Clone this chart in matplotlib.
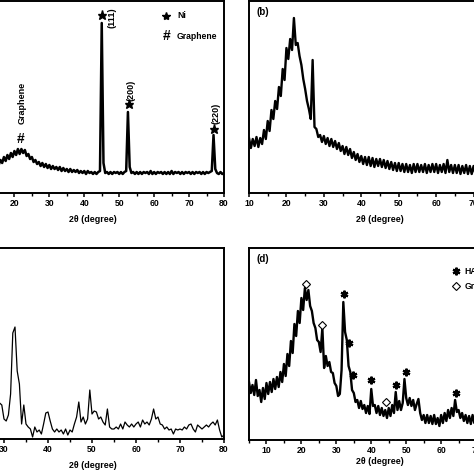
import numpy as np
import matplotlib.pyplot as plt
from matplotlib.ticker import MultipleLocator

plt.rcParams['font.family'] = ['Liberation Sans', 'DejaVu Sans']
plt.rcParams['font.weight'] = 'bold'

# ---- data (intensity in arbitrary units) ----
# (a) Ni / graphene, 2theta 5..80 step 0.5
theta_a = np.arange(5, 80.01, 0.5)
int_a = [27, 30, 26, 29, 27, 30, 26, 28, 30, 26,
         29, 27, 30, 26, 29, 27, 31, 27, 30, 28,
         32, 28, 33, 30, 36, 32, 38, 34, 40, 36,
         42, 38, 44, 39, 44, 40, 43, 37, 39, 34,
         36, 31, 33, 29, 31, 27, 30, 26, 29, 25,
         28, 24, 27, 24, 26, 23, 26, 22, 25, 22,
         24, 21, 24, 21, 23, 21, 23, 20, 22, 20,
         22, 19, 22, 20, 21, 19, 21, 19, 21, 22,
         170, 30, 20, 21, 19, 21, 19, 21, 20, 21,
         19, 21, 19, 21, 22, 81, 26, 20, 21, 19,
         21, 19, 21, 19, 21, 20, 21, 19, 22, 19,
         21, 19, 21, 20, 21, 19, 21, 19, 21, 19,
         22, 19, 21, 20, 21, 19, 21, 19, 21, 20,
         21, 19, 21, 19, 21, 20, 21, 19, 21, 19,
         21, 20, 21, 22, 58, 24, 20, 19, 21, 19,
         20]

# (b) 2theta 10..80 step 0.5
theta_b = np.arange(10, 80.01, 0.5)
int_b = [55, 45, 54, 47, 56, 46, 55, 49, 63, 54,
         72, 62, 83, 74, 92, 84, 106, 97, 124, 113,
         145, 134, 154, 143, 175, 148, 150, 137, 128, 114,
         104, 92, 84, 74, 133, 66, 64, 56, 58, 51,
         57, 49, 55, 47, 54, 46, 52, 44, 50, 42,
         47, 39, 46, 38, 44, 35, 41, 33, 39, 31,
         37, 29, 36, 28, 36, 27, 35, 26, 34, 27,
         34, 26, 33, 25, 32, 24, 31, 23, 30, 22,
         30, 22, 29, 21, 29, 21, 28, 20, 29, 21,
         29, 21, 28, 21, 29, 20, 28, 21, 29, 21,
         29, 20, 28, 21, 29, 20, 33, 21, 28, 20,
         28, 20, 28, 19, 27, 20, 28, 19, 27, 19,
         27, 19, 27, 19, 27, 19, 26, 19, 27, 18,
         26, 19, 26, 18, 26, 19, 26, 18, 26, 18,
         22]

# (c) 2theta 20..80 step 0.5
theta_c = np.arange(20, 80.01, 0.5)
int_c = [20, 15, 22, 17, 24, 19, 27, 22, 25, 20,
         23, 18, 21, 16, 22, 18, 24, 30, 36, 34,
         20, 18, 24, 45, 106, 112, 68, 55, 15, 34,
         15, 12, 10, 2, 12, 7, 9, 5, 15, 26,
         27, 18, 10, 7, 10, 7, 9, 5, 10, 4,
         9, 7, 15, 22, 37, 17, 22, 15, 20, 49,
         25, 28, 27, 20, 22, 17, 14, 30, 12, 10,
         10, 12, 10, 15, 10, 17, 14, 12, 15, 12,
         15, 17, 12, 19, 15, 17, 14, 20, 30, 20,
         22, 15, 14, 10, 12, 9, 10, 5, 10, 9,
         10, 9, 12, 10, 14, 15, 10, 7, 14, 12,
         10, 12, 14, 12, 15, 17, 14, 19, 9, 2,
         4]

# (d) 2theta 5..80 step 0.5
theta_d = np.arange(5, 80.01, 0.5)
int_d = [58, 47, 55, 45, 60, 44, 50, 38, 52, 41,
         57, 46, 58, 48, 61, 51, 63, 53, 68, 58,
         76, 64, 86, 74, 99, 87, 116, 104, 129, 117,
         142, 130, 152, 140, 150, 134, 129, 117, 112, 100,
         98, 88, 112, 72, 84, 74, 78, 68, 67, 57,
         54, 44, 46, 70, 138, 108, 100, 74, 68, 50,
         47, 38, 40, 32, 39, 31, 35, 27, 34, 26,
         51, 34, 35, 27, 34, 25, 32, 24, 30, 22,
         32, 24, 35, 27, 48, 30, 39, 30, 37, 61,
         42, 35, 42, 34, 40, 30, 36, 41, 27, 20,
         25, 17, 25, 17, 24, 16, 25, 16, 22, 14,
         25, 17, 27, 19, 30, 22, 32, 24, 40, 28,
         30, 22, 27, 19, 25, 17, 24, 16, 25, 17,
         25, 17, 24, 16, 25, 17, 24, 16, 25, 17,
         24, 16, 25, 17, 24, 16, 25, 17, 24, 16,
         21]

# phase markers in (d)
ha_theta = [32.3, 33.7, 34.9, 40.0, 47.1, 50.0, 64.3]
ha_int = [146, 97, 65, 60, 55, 68, 47]
gr_theta = [21.4, 26.0, 44.3]
gr_int = [156, 115, 38]

# ---- figure ----
W = H = 474
fig = plt.figure(figsize=(4.74, 4.74), dpi=100)


def panel(left, top, right, bottom, xlim, ymax):
    ax = fig.add_axes([left / W, 1 - bottom / H, (right - left) / W, (bottom - top) / H])
    ax.set_xlim(*xlim)
    ax.set_ylim(0, ymax)
    ax.set_yticks([])
    ax.xaxis.set_major_locator(MultipleLocator(10))
    ax.xaxis.set_minor_locator(MultipleLocator(5))
    ax.tick_params(axis='x', which='major', direction='out', length=3.2, width=1.1,
                   labelsize=6.2, pad=1.2)
    ax.tick_params(axis='x', which='minor', direction='out', length=2.2, width=1.0)
    for s in ax.spines.values():
        s.set_linewidth(1.4)
    return ax


def xlab(x, y):
    fig.text(x / W, 1 - y / H, '2\u03b8 (degree)', ha='center', va='center',
             fontsize=6.4, fontweight='bold')


ax_a = panel(-38, 1, 224, 193, (5, 80), 192)
ax_b = panel(249, 1, 511, 193, (10, 80), 192)
ax_c = panel(-40, 248, 224, 439, (20, 80), 191)
ax_d = panel(249, 248, 511, 440, (5, 80), 192)

# (a)
ax_a.plot(theta_a, int_a, color='black', lw=1.8)
ax_a.plot([45.1, 52.9, 77.1], [178, 89, 64], ls='none', marker='*', ms=6.5, color='black')
ax_a.text(48.0, 175, '(111)', rotation=90, ha='center', va='center', fontsize=6.5)
ax_a.text(53.5, 103, '(200)', rotation=90, ha='center', va='center', fontsize=6.5)
ax_a.text(77.7, 80, '(220)', rotation=90, ha='center', va='center', fontsize=6.5)
ax_a.text(21.7, 54, '#', ha='center', va='center', fontsize=10)
ax_a.text(22.3, 90, 'Graphene', rotation=90, ha='center', va='center', fontsize=6.5)
ax_a.plot([63.4], [177], ls='none', marker='*', ms=6, color='black')
ax_a.text(66.6, 178, 'Ni', ha='left', va='center', fontsize=6.2)
ax_a.text(63.7, 157, '#', ha='center', va='center', fontsize=10)
ax_a.text(66.3, 157, 'Graphene', ha='left', va='center', fontsize=6.2)

# (b)
ax_b.plot(theta_b, int_b, color='black', lw=1.7)
ax_b.text(0.03, 0.97, '(b)', transform=ax_b.transAxes, ha='left', va='top', fontsize=7)

# (c)
ax_c.plot(theta_c, int_c, color='black', lw=0.9)

# (d)
ax_d.plot(theta_d, int_d, color='black', lw=1.7)
h_ha, = ax_d.plot(ha_theta, ha_int, ls='none', marker=(6, 2, 0), ms=5.5, mew=1.6,
                  color='black', label='HA')
h_gr, = ax_d.plot(gr_theta, gr_int, ls='none', marker='D', ms=3.8, mew=0.8,
                  mfc='white', mec='black', label='Graphene')
ax_d.text(0.03, 0.97, '(d)', transform=ax_d.transAxes, ha='left', va='top', fontsize=7)
ax_d.legend(handles=[h_ha, h_gr], loc='upper left', bbox_to_anchor=(0.75, 0.93),
            frameon=False, fontsize=6.2, handlelength=1.0, handletextpad=0.5,
            labelspacing=0.6, borderpad=0.2)

xlab(93, 220)
xlab(380, 220)
xlab(93, 466)
xlab(380, 462)

fig.savefig('out.png', dpi=100)
